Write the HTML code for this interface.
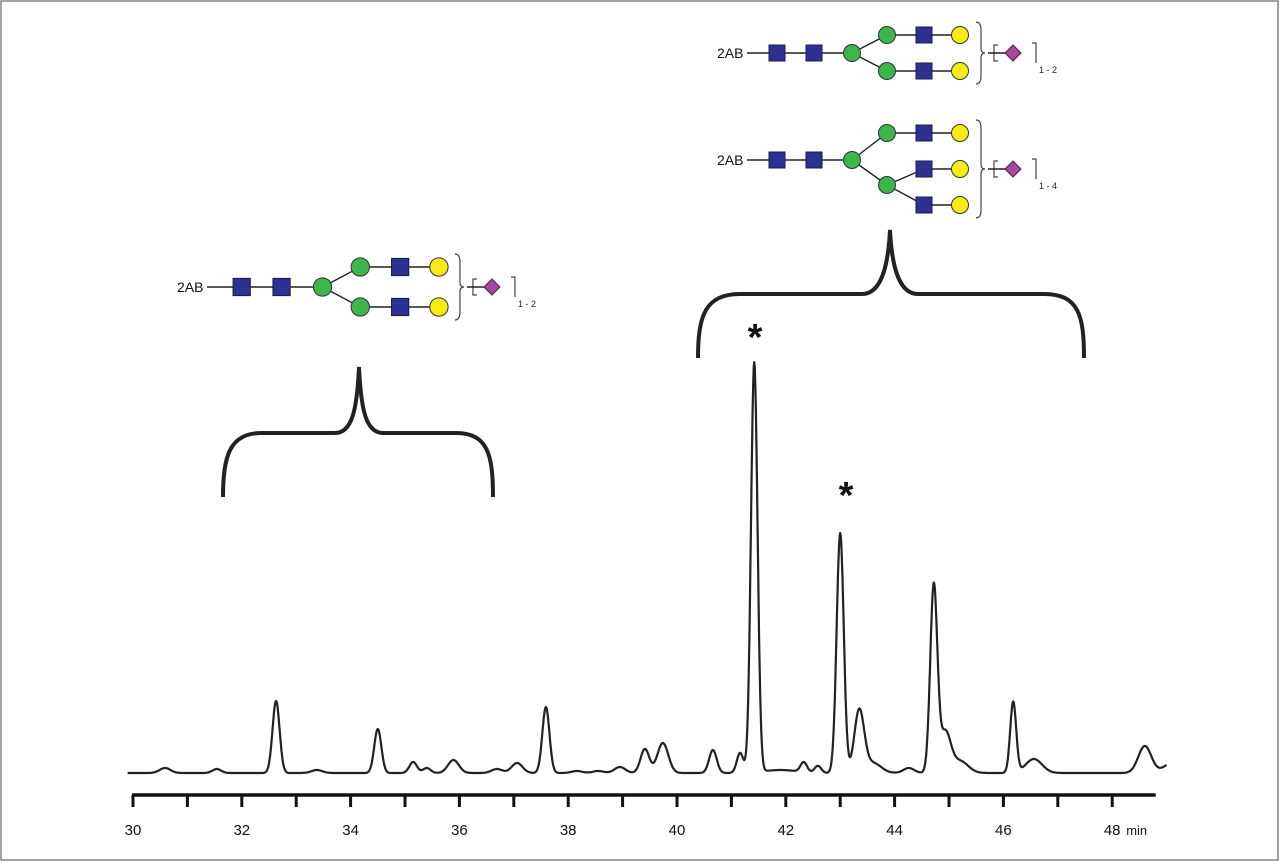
<!DOCTYPE html>
<html><head><meta charset="utf-8">
<style>
html,body{margin:0;padding:0;background:#fff;}
svg{display:block;font-family:"Liberation Sans",sans-serif;}
</style></head>
<body>
<svg id="chart" width="1280" height="862" viewBox="0 0 1280 862" xmlns="http://www.w3.org/2000/svg">
<rect x="1" y="1" width="1277" height="859" fill="#fff" stroke="#666" stroke-width="1.2"/>
<g id="axis"></g>
<path id="trace" fill="none" stroke="#222" stroke-width="2.2" stroke-linejoin="round"/>
<g id="glycans"></g>
<path d="M223,497 C223,455 230,433 262,433 L335,433 C352,433 357,410 359,367 C361,410 366,433 383,433 L456,433 C488,433 493,455 493,497" fill="none" stroke="#222" stroke-width="4"/>
<path d="M698,358 C698,316 705,294 740,294 L862,294 C880,294 888,270 890,230 C892,270 900,294 918,294 L1044,294 C1079,294 1084,316 1084,358" fill="none" stroke="#222" stroke-width="4"/>
<text x="755" y="350" font-size="38" font-weight="bold" text-anchor="middle" fill="#111">*</text>
<text x="846" y="508" font-size="38" font-weight="bold" text-anchor="middle" fill="#111">*</text>
</svg>
<script>
// retention times (min)
const peakTimes = [30.59,31.54,32.63,33.38,34.5,35.15,35.4,35.89,36.69,37.06,37.59,38.16,38.55,38.95,39.41,39.74,40.66,41.16,41.42,41.9,42.33,42.59,43.0,43.35,43.6,44.26,44.72,44.93,45.2,46.18,46.56,48.6,49.1];
// peak heights (signal units above baseline)
const peakHeights = [5,4,72,3,44,11,5,13,4,10,66,2,2,6,24,30,23,20,410,3,10,7,240,62,10,5,186,40,12,71,14,27,10];
// peak widths (sigma, min)
const peakSigmas = [0.1,0.08,0.065,0.1,0.065,0.07,0.07,0.1,0.1,0.1,0.065,0.1,0.1,0.1,0.08,0.1,0.07,0.06,0.06,0.3,0.06,0.06,0.065,0.09,0.15,0.1,0.065,0.1,0.15,0.055,0.15,0.12,0.15];
const tickValues = [30,31,32,33,34,35,36,37,38,39,40,41,42,43,44,45,46,47,48];
const tickLabels = ["30","32","34","36","38","40","42","44","46","48"];
const xMin = 30, xMax = 48.8, traceStart = 29.9, traceEnd = 49.0;

const NS = "http://www.w3.org/2000/svg";
const X0 = 133, PXMIN = 54.4, BASE = 773;
function xScale(t){ return X0 + (t - xMin) * PXMIN; }
function yScale(v){ return BASE - v; }

let d = "";
for (let t = traceStart; t <= traceEnd; t += 0.01) {
  let v = 0;
  for (let i = 0; i < peakTimes.length; i++) {
    const z = (t - peakTimes[i]) / peakSigmas[i];
    v += peakHeights[i] * Math.exp(-0.5 * z * z);
  }
  d += (d ? "L" : "M") + xScale(t).toFixed(1) + "," + yScale(v).toFixed(1);
}
document.getElementById("trace").setAttribute("d", d);

const ax = document.getElementById("axis");
const line = document.createElementNS(NS, "line");


line.setAttribute("x1", xScale(xMin) - 1); line.setAttribute("x2", xScale(xMax));
line.setAttribute("y1", 795); line.setAttribute("y2", 795);
line.setAttribute("stroke", "#111"); line.setAttribute("stroke-width", "3.5");
ax.appendChild(line);
tickValues.forEach(v => {
  const tk = document.createElementNS(NS, "line");
  
  
  tk.setAttribute("x1", xScale(v)); tk.setAttribute("x2", xScale(v));
  tk.setAttribute("y1", 795); tk.setAttribute("y2", 807);
  tk.setAttribute("stroke", "#111"); tk.setAttribute("stroke-width", "3");
  ax.appendChild(tk);
});
tickLabels.forEach(s => {
  const tx = document.createElementNS(NS, "text");
  
  
  tx.setAttribute("x", xScale(parseFloat(s)));
  tx.setAttribute("y", 835);
  tx.setAttribute("font-size", "15");
  tx.setAttribute("text-anchor", "middle");
  tx.setAttribute("fill", "#111");
  tx.textContent = s;
  ax.appendChild(tx);
});
const unit = document.createElementNS(NS, "text");


unit.setAttribute("x", xScale(48) + 14); unit.setAttribute("y", 835);
unit.setAttribute("font-size", "13"); unit.setAttribute("fill", "#111");
unit.textContent = "min";
ax.appendChild(unit);

const G = document.getElementById("glycans");
function el(tag, attrs, name){
  const e = document.createElementNS(NS, tag);
  for (const k in attrs) e.setAttribute(k, attrs[k]);
  
  
  G.appendChild(e); return e;
}
function ln(a,b,c,d2){ el("line",{x1:a,y1:b,x2:c,y2:d2,stroke:"#222","stroke-width":1.4},"glycan-bond"); }
function sq(x,y,k){ const h=8*k; el("rect",{x:x-h,y:y-h,width:2*h,height:2*h,fill:"#2e3192",stroke:"#1a1a50","stroke-width":1},"glcnac-square"); }
function circ(x,y,c,n,k){ el("circle",{cx:x,cy:y,r:8.5*k,fill:c,stroke:"#333","stroke-width":1},n); }
function glycan(ox, y, k, arms, leaves, sub){
  const t = el("text",{x:ox,y:y+5,"font-size":14,fill:"#111"},"2ab-label");
  t.textContent = "2AB";
  const s1 = ox+60*k, s2 = ox+97*k, m = ox+135*k, b = ox+170*k, s3 = ox+207*k, g = ox+243*k;
  ln(ox+30,y,m,y);
  arms.forEach(a => ln(m,y,b,a));
  leaves.forEach(r => { ln(b, arms[r.arm], s3, r.y); ln(s3,r.y,g,r.y); });
  sq(s1,y,k); sq(s2,y,k); circ(m,y,"#3db54a","mannose-circle",k);
  arms.forEach(a => circ(b,a,"#3db54a","mannose-circle",k));
  leaves.forEach(r => { sq(s3,r.y,k); circ(g,r.y,"#f7ec13","galactose-circle",k); });
  const top = leaves[0].y - 13, bot = leaves[leaves.length-1].y + 13, mid = (top+bot)/2, bx = g+16;
  el("path",{d:`M${bx},${top} Q${bx+5},${top} ${bx+5},${top+8} L${bx+5},${mid-5} Q${bx+5},${mid} ${bx+9},${mid} Q${bx+5},${mid} ${bx+5},${mid+5} L${bx+5},${bot-8} Q${bx+5},${bot} ${bx},${bot}`,fill:"none",stroke:"#444","stroke-width":1.2},"antenna-brace");
  el("path",{d:`M${bx+22},${mid-8} L${bx+18},${mid-8} L${bx+18},${mid+8} L${bx+22},${mid+8}`,fill:"none",stroke:"#444","stroke-width":1.2},"sialic-bracket-open");
  ln(bx+12,mid,bx+36,mid);
  el("polygon",{points:`${bx+37},${mid-8} ${bx+45},${mid} ${bx+37},${mid+8} ${bx+29},${mid}`,fill:"#a5489e",stroke:"#4a1f46","stroke-width":1},"sialic-acid-diamond");
  el("path",{d:`M${bx+56},${mid-10} L${bx+60},${mid-10} L${bx+60},${mid+10}`,fill:"none",stroke:"#444","stroke-width":1.2},"sialic-bracket-close");
  const st = el("text",{x:bx+63,y:mid+20,"font-size":9,fill:"#222"},"sialic-count");
  st.textContent = sub;
}
glycan(177, 287, 1.078, [267,307], [{y:267,arm:0},{y:307,arm:1}], "1 - 2");
glycan(717, 53, 1, [35,71], [{y:35,arm:0},{y:71,arm:1}], "1 - 2");
glycan(717, 160, 1, [133,185], [{y:133,arm:0},{y:169,arm:1},{y:205,arm:1}], "1 - 4");
</script>
</body></html>
